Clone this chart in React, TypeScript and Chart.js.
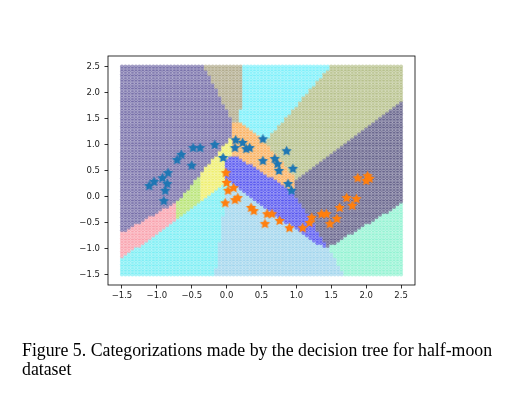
import React, { useEffect, useRef } from "react";
import { Chart, registerables } from "chart.js";

Chart.register(...registerables);

// ---- axes ----
const xTicks = [-1.5, -1.0, -0.5, 0.0, 0.5, 1.0, 1.5, 2.0, 2.5];
const yTicks = [-1.5, -1.0, -0.5, 0.0, 0.5, 1.0, 1.5, 2.0, 2.5];
const axisMin = -1.7;
const axisMax = 2.7;

// ---- decision-surface mesh ----
const meshStart = -1.5;
const meshEnd = 2.5;
const meshStep = 0.05;

// ---- half-moon samples ----
const class0X = [-1.11, -1.04, -0.92, -0.84, -0.85, -0.88, -0.9, -0.71, -0.65, -0.5, -0.48, -0.38, -0.17, -0.05, 0.13, 0.12, 0.23, 0.28, 0.33, 0.52, 0.52, 0.69, 0.73, 0.75, 0.86, 0.95, 0.88, 0.93];
const class0Y = [0.21, 0.29, 0.36, 0.46, 0.25, 0.12, -0.08, 0.71, 0.81, 0.6, 0.94, 0.94, 1.0, 0.75, 1.09, 0.94, 1.04, 0.92, 0.94, 1.11, 0.69, 0.73, 0.63, 0.5, 0.88, 0.54, 0.25, 0.12];
const class1X = [-0.01, 0.0, 0.02, 0.1, -0.02, 0.12, 0.16, 0.35, 0.39, 0.58, 0.65, 0.55, 0.76, 0.9, 1.09, 1.19, 1.22, 1.36, 1.43, 1.48, 1.58, 1.62, 1.72, 1.86, 1.8, 1.88, 2.0, 2.02, 2.05];
const class1Y = [0.46, 0.27, 0.12, 0.17, -0.12, -0.06, -0.02, -0.21, -0.27, -0.33, -0.33, -0.52, -0.46, -0.6, -0.6, -0.5, -0.4, -0.33, -0.33, -0.52, -0.42, -0.21, -0.02, -0.04, -0.17, 0.36, 0.31, 0.4, 0.35];

// ---- leaf regions of the tree (polygons in data units) ----
const regionNames = ["tan", "cyanTop", "olive", "orange", "darkPurple", "aquamarine", "blue", "yellow", "green", "pink", "cyanLow", "lightBlue"];
const regionColors = [
  "rgba(150,142,100,0.5)",
  "rgba(80,235,250,0.5)",
  "rgba(158,172,100,0.5)",
  "rgba(248,150,40,0.5)",
  "rgba(50,45,100,0.5)",
  "rgba(110,240,195,0.5)",
  "rgba(30,30,235,0.5)",
  "rgba(234,234,60,0.5)",
  "rgba(160,219,70,0.5)",
  "rgba(248,130,145,0.5)",
  "rgba(80,234,242,0.5)",
  "rgba(130,200,232,0.5)",
];
const defaultRegionColor = "rgba(72,61,139,0.5)";
const regionPolygons: number[][][] = [
  [[-0.36, 2.6], [0.24, 2.6], [0.24, 1.85], [0.16, 1.45], [0.08, 1.45]],
  [[0.16, 1.45], [0.24, 1.85], [0.24, 2.6], [1.55, 2.6], [0.55, 1.05]],
  [[0.55, 1.05], [1.55, 2.6], [2.6, 2.6], [2.6, 1.94], [1.0, 0.34]],
  [[0.08, 1.45], [0.16, 1.45], [0.55, 1.05], [1.0, 0.34], [1.0, 0.06], [0.12, 0.8], [0.05, 0.76], [0.09, 1.05]],
  [[1.0, 0.34], [2.6, 1.94], [2.6, -0.07], [1.45, -0.98], [1.0, 0.0]],
  [[1.45, -0.98], [2.6, -0.07], [2.6, -1.6], [1.74, -1.6]],
  [[0.0, 0.72], [0.12, 0.8], [1.0, 0.06], [1.0, 0.0], [1.45, -0.98], [1.29, -0.9], [0.8, -0.46], [0.33, -0.02], [0.16, 0.17], [0.02, 0.3], [0.0, 0.35]],
  [[-0.38, 0.42], [0.05, 1.13], [0.09, 1.05], [0.05, 0.76], [0.0, 0.72], [0.0, 0.26], [-0.38, -0.11]],
  [[-0.7, -0.1], [-0.38, 0.42], [-0.38, -0.11], [-0.7, -0.42]],
  [[-1.6, -0.77], [-0.7, -0.1], [-0.7, -0.42], [-1.6, -1.29]],
  [[-1.6, -1.6], [-1.6, -1.29], [0.0, 0.26], [0.02, 0.3], [-0.17, -1.6]],
  [[-0.17, -1.6], [0.02, 0.3], [0.16, 0.17], [0.33, -0.02], [0.8, -0.46], [1.29, -0.9], [1.45, -0.98], [1.74, -1.6]],
];

const captionText = "Figure 5. Categorizations made by the decision tree for half-moon dataset";

function inside(px: number, py: number, poly: number[][]) {
  let c = false;
  for (let i = 0, j = poly.length - 1; i < poly.length; j = i++) {
    const [xi, yi] = poly[i];
    const [xj, yj] = poly[j];
    if ((yi > py) !== (yj > py) && px < ((xj - xi) * (py - yi)) / (yj - yi) + xi) c = !c;
  }
  return c;
}

function regionColor(x: number, y: number) {
  // tiny offset so mesh nodes lying exactly on a shared edge get one side
  const tx = x + 1.3e-6;
  const ty = y + 0.7e-6;
  for (let k = 0; k < regionPolygons.length; k++) {
    if (inside(tx, ty, regionPolygons[k])) return regionColors[k];
  }
  return defaultRegionColor;
}

function starImage(color: string) {
  const size = 13;
  const c = document.createElement("canvas");
  c.width = size;
  c.height = size;
  const ctx = c.getContext("2d")!;
  const cx = size / 2;
  const cy = size / 2 + 0.4;
  const R = 5.4;
  const r = 2.7;
  ctx.beginPath();
  for (let i = 0; i < 10; i++) {
    const a = -Math.PI / 2 + (i * Math.PI) / 5;
    const rad = i % 2 === 0 ? R : r;
    const x = cx + rad * Math.cos(a);
    const y = cy + rad * Math.sin(a);
    if (i === 0) ctx.moveTo(x, y);
    else ctx.lineTo(x, y);
  }
  ctx.closePath();
  ctx.fillStyle = color;
  ctx.fill();
  return c;
}

const fmt = (v: number) => v.toFixed(1).replace("-", "\u2212");

export default function App() {
  const ref = useRef<HTMLCanvasElement>(null);

  useEffect(() => {
    if (!ref.current) return;
    const meshPts: { x: number; y: number }[] = [];
    const meshCols: string[] = [];
    const n = Math.round((meshEnd - meshStart) / meshStep);
    for (let i = 0; i <= n; i++) {
      for (let j = 0; j <= n; j++) {
        const x = Math.round((meshStart + i * meshStep) * 1000) / 1000;
        const y = Math.round((meshStart + j * meshStep) * 1000) / 1000;
        meshPts.push({ x, y });
        meshCols.push(regionColor(x, y));
      }
    }
    const frame = {
      id: "frame",
      afterDatasetsDraw(chart: any) {
        const { ctx, chartArea: a } = chart;
        ctx.save();
        ctx.strokeStyle = "#000";
        ctx.lineWidth = 0.8;
        ctx.strokeRect(a.left, a.top, a.right - a.left, a.bottom - a.top);
        ctx.restore();
      },
    };
    const tickFont = { family: "'DejaVu Sans'", size: 8.5 };
    const chart = new Chart(ref.current, {
      type: "scatter",
      data: {
        datasets: [
          {
            label: "class 0",
            data: class0X.map((x, i) => ({ x, y: class0Y[i] })),
            pointStyle: starImage("#1f77b4") as any,
            order: 0,
          },
          {
            label: "class 1",
            data: class1X.map((x, i) => ({ x, y: class1Y[i] })),
            pointStyle: starImage("#ff7f0e") as any,
            order: 0,
          },
          {
            label: "mesh",
            data: meshPts,
            pointRadius: 2,
            pointBorderWidth: 0,
            pointBackgroundColor: meshCols,
            pointBorderColor: "rgba(0,0,0,0)",
            order: 1,
          },
        ],
      },
      options: {
        animation: false,
        responsive: false,
        events: [],
        layout: { padding: { left: 78, right: 98, top: 56, bottom: 96 } },
        plugins: { legend: { display: false }, tooltip: { enabled: false } },
        scales: {
          x: {
            type: "linear",
            min: axisMin,
            max: axisMax,
            afterBuildTicks: (s: any) => {
              s.ticks = xTicks.map((v) => ({ value: v }));
            },
            afterFit: (s: any) => {
              s.height = 20;
            },
            border: { display: false },
            grid: { display: true, drawOnChartArea: false, drawTicks: true, tickLength: 3.5, color: "#000", lineWidth: 0.8 },
            ticks: { color: "#222", font: tickFont, padding: 2, maxRotation: 0, autoSkip: false, callback: (v: any) => fmt(Number(v)) },
          },
          y: {
            type: "linear",
            min: axisMin,
            max: axisMax,
            afterBuildTicks: (s: any) => {
              s.ticks = yTicks.map((v) => ({ value: v }));
            },
            afterFit: (s: any) => {
              s.width = 30;
            },
            border: { display: false },
            grid: { display: true, drawOnChartArea: false, drawTicks: true, tickLength: 3.5, color: "#000", lineWidth: 0.8 },
            ticks: { color: "#222", font: tickFont, padding: 4.5, autoSkip: false, callback: (v: any) => fmt(Number(v)) },
          },
        },
      },
      plugins: [frame],
    });
    return () => chart.destroy();
  }, []);

  return (
    <div style={{ position: "absolute", left: 0, top: 0, width: 513, height: 401, background: "#fff" }}>
      <canvas ref={ref} width={513} height={401} style={{ position: "absolute", left: 0, top: 0, width: 513, height: 401 }} />
      <div
        style={{
          position: "absolute",
          left: 22,
          top: 341,
          width: 485,
          fontFamily: "'Liberation Serif', 'Times New Roman', serif",
          fontSize: 17.8,
          lineHeight: "19px",
          color: "#000",
        }}
      >
        {captionText}
      </div>
    </div>
  );
}
